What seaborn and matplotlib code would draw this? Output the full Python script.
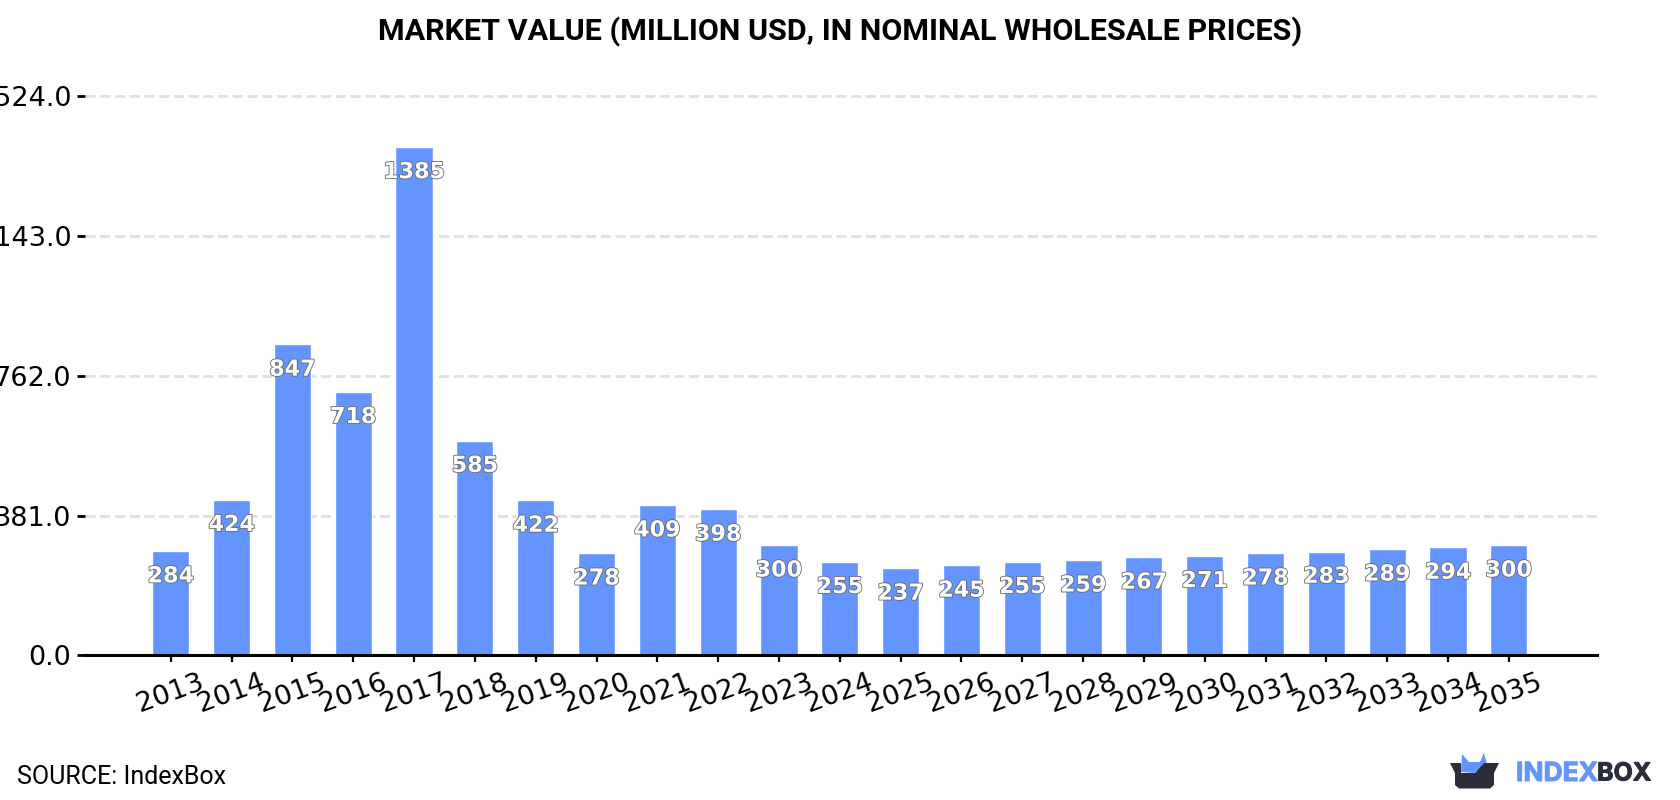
import matplotlib
matplotlib.use("Agg")
import matplotlib.pyplot as plt
import matplotlib.patheffects as pe
from matplotlib.patches import Polygon
import seaborn as sns

years = [str(y) for y in range(2013, 2036)]
values = [284, 424, 847, 718, 1385, 585, 422, 278, 409, 398, 300, 255,
          237, 245, 255, 259, 267, 271, 278, 283, 289, 294, 300]
y_ticks = [0, 381, 762, 1143, 1524]
y_tick_labels = ["0.0", "381.0", "762.0", "1143.0", "1524.0"]

BLUE = "#6495ff"
DARK = "#2b2d3a"

sns.set_theme(style="white")
plt.rcParams["font.family"] = ["DejaVu Sans"]

W, H = 1680, 800
base_px, top_px = 655.4, 70
fig = plt.figure(figsize=(W / 100, H / 100), dpi=100, facecolor="white")
ax = fig.add_axes([85 / W, 1 - base_px / H, (1597 - 85) / W, (base_px - top_px) / H])

sns.barplot(x=years, y=values, color=BLUE, saturation=1, width=0.61, ax=ax, zorder=3)

ax.set_xlim(-1.41, 23.45)
ax.set_ylim(0, 1524 * (base_px - top_px) / 559.5)
ax.set_yticks(y_ticks, y_tick_labels)
ax.set_xlabel("")
ax.set_ylabel("")

ax.grid(axis="y", color="#e0e0e0", linestyle=(0, (3.7, 1.6)), linewidth=2, zorder=0)
ax.set_axisbelow(True)
sns.despine(ax=ax, left=True)
ax.spines["bottom"].set_linewidth(2.2)
ax.spines["bottom"].set_color("black")
ax.spines["bottom"].set_zorder(5)

ax.tick_params(axis="y", length=5.8, width=2, color="black", labelsize=19.5,
               labelcolor="black", pad=4, left=True)
ax.tick_params(axis="x", length=5, width=1.6, color="black", labelsize=19.7,
               labelcolor="black", pad=4.8, bottom=True, labelrotation=20)

# Value labels sit just under the top of each bar
outline = [pe.withStroke(linewidth=1.2, foreground="#666666")]
for i, v in enumerate(values):
    ax.annotate(str(v), xy=(i, v), xytext=(0, -18.2), textcoords="offset points",
                ha="center", va="center", fontsize=16, fontweight="bold",
                color="white", path_effects=outline, zorder=6)

fig.text(840 / W, 1 - 32 / H, "MARKET VALUE (MILLION USD, IN NOMINAL WHOLESALE PRICES)",
         ha="center", va="center", fontsize=21.95, fontweight="bold",
         family="Roboto", color="black")
fig.text(17 / W, 1 - 777 / H, "SOURCE: IndexBox", ha="left", va="center",
         fontsize=18, family="Roboto", color="black")

# IndexBox logo: a dark open box with two blue ears poking out of it
logo = fig.add_axes([0, 0, 1, 1], facecolor="none", zorder=10)
logo.set_xlim(0, W)
logo.set_ylim(H, 0)
logo.axis("off")
logo.add_patch(Polygon([(1461, 772), (1462, 754), (1469, 762), (1480, 762),
                        (1484, 753), (1487, 764), (1474, 773)],
                       closed=True, facecolor=BLUE, edgecolor="none"))
logo.add_patch(Polygon([(1450, 763), (1461, 763), (1461, 773), (1475, 773),
                        (1484, 763), (1499, 763), (1494, 773), (1494, 785),
                        (1490, 788.5), (1459, 788.5), (1455, 785), (1455, 773)],
                       closed=True, facecolor=DARK, edgecolor="none"))
logo.text(1516, 774, "INDEX", ha="left", va="center", fontsize=19, fontweight="bold",
          family="Inter", color=BLUE,
          path_effects=[pe.withStroke(linewidth=0.7, foreground=BLUE)])
logo.text(1597, 774, "BOX", ha="left", va="center", fontsize=18, fontweight="bold",
          family="Inter", color=DARK,
          path_effects=[pe.withStroke(linewidth=0.7, foreground=DARK)])

fig.savefig("out.png", dpi=100, facecolor="white")
